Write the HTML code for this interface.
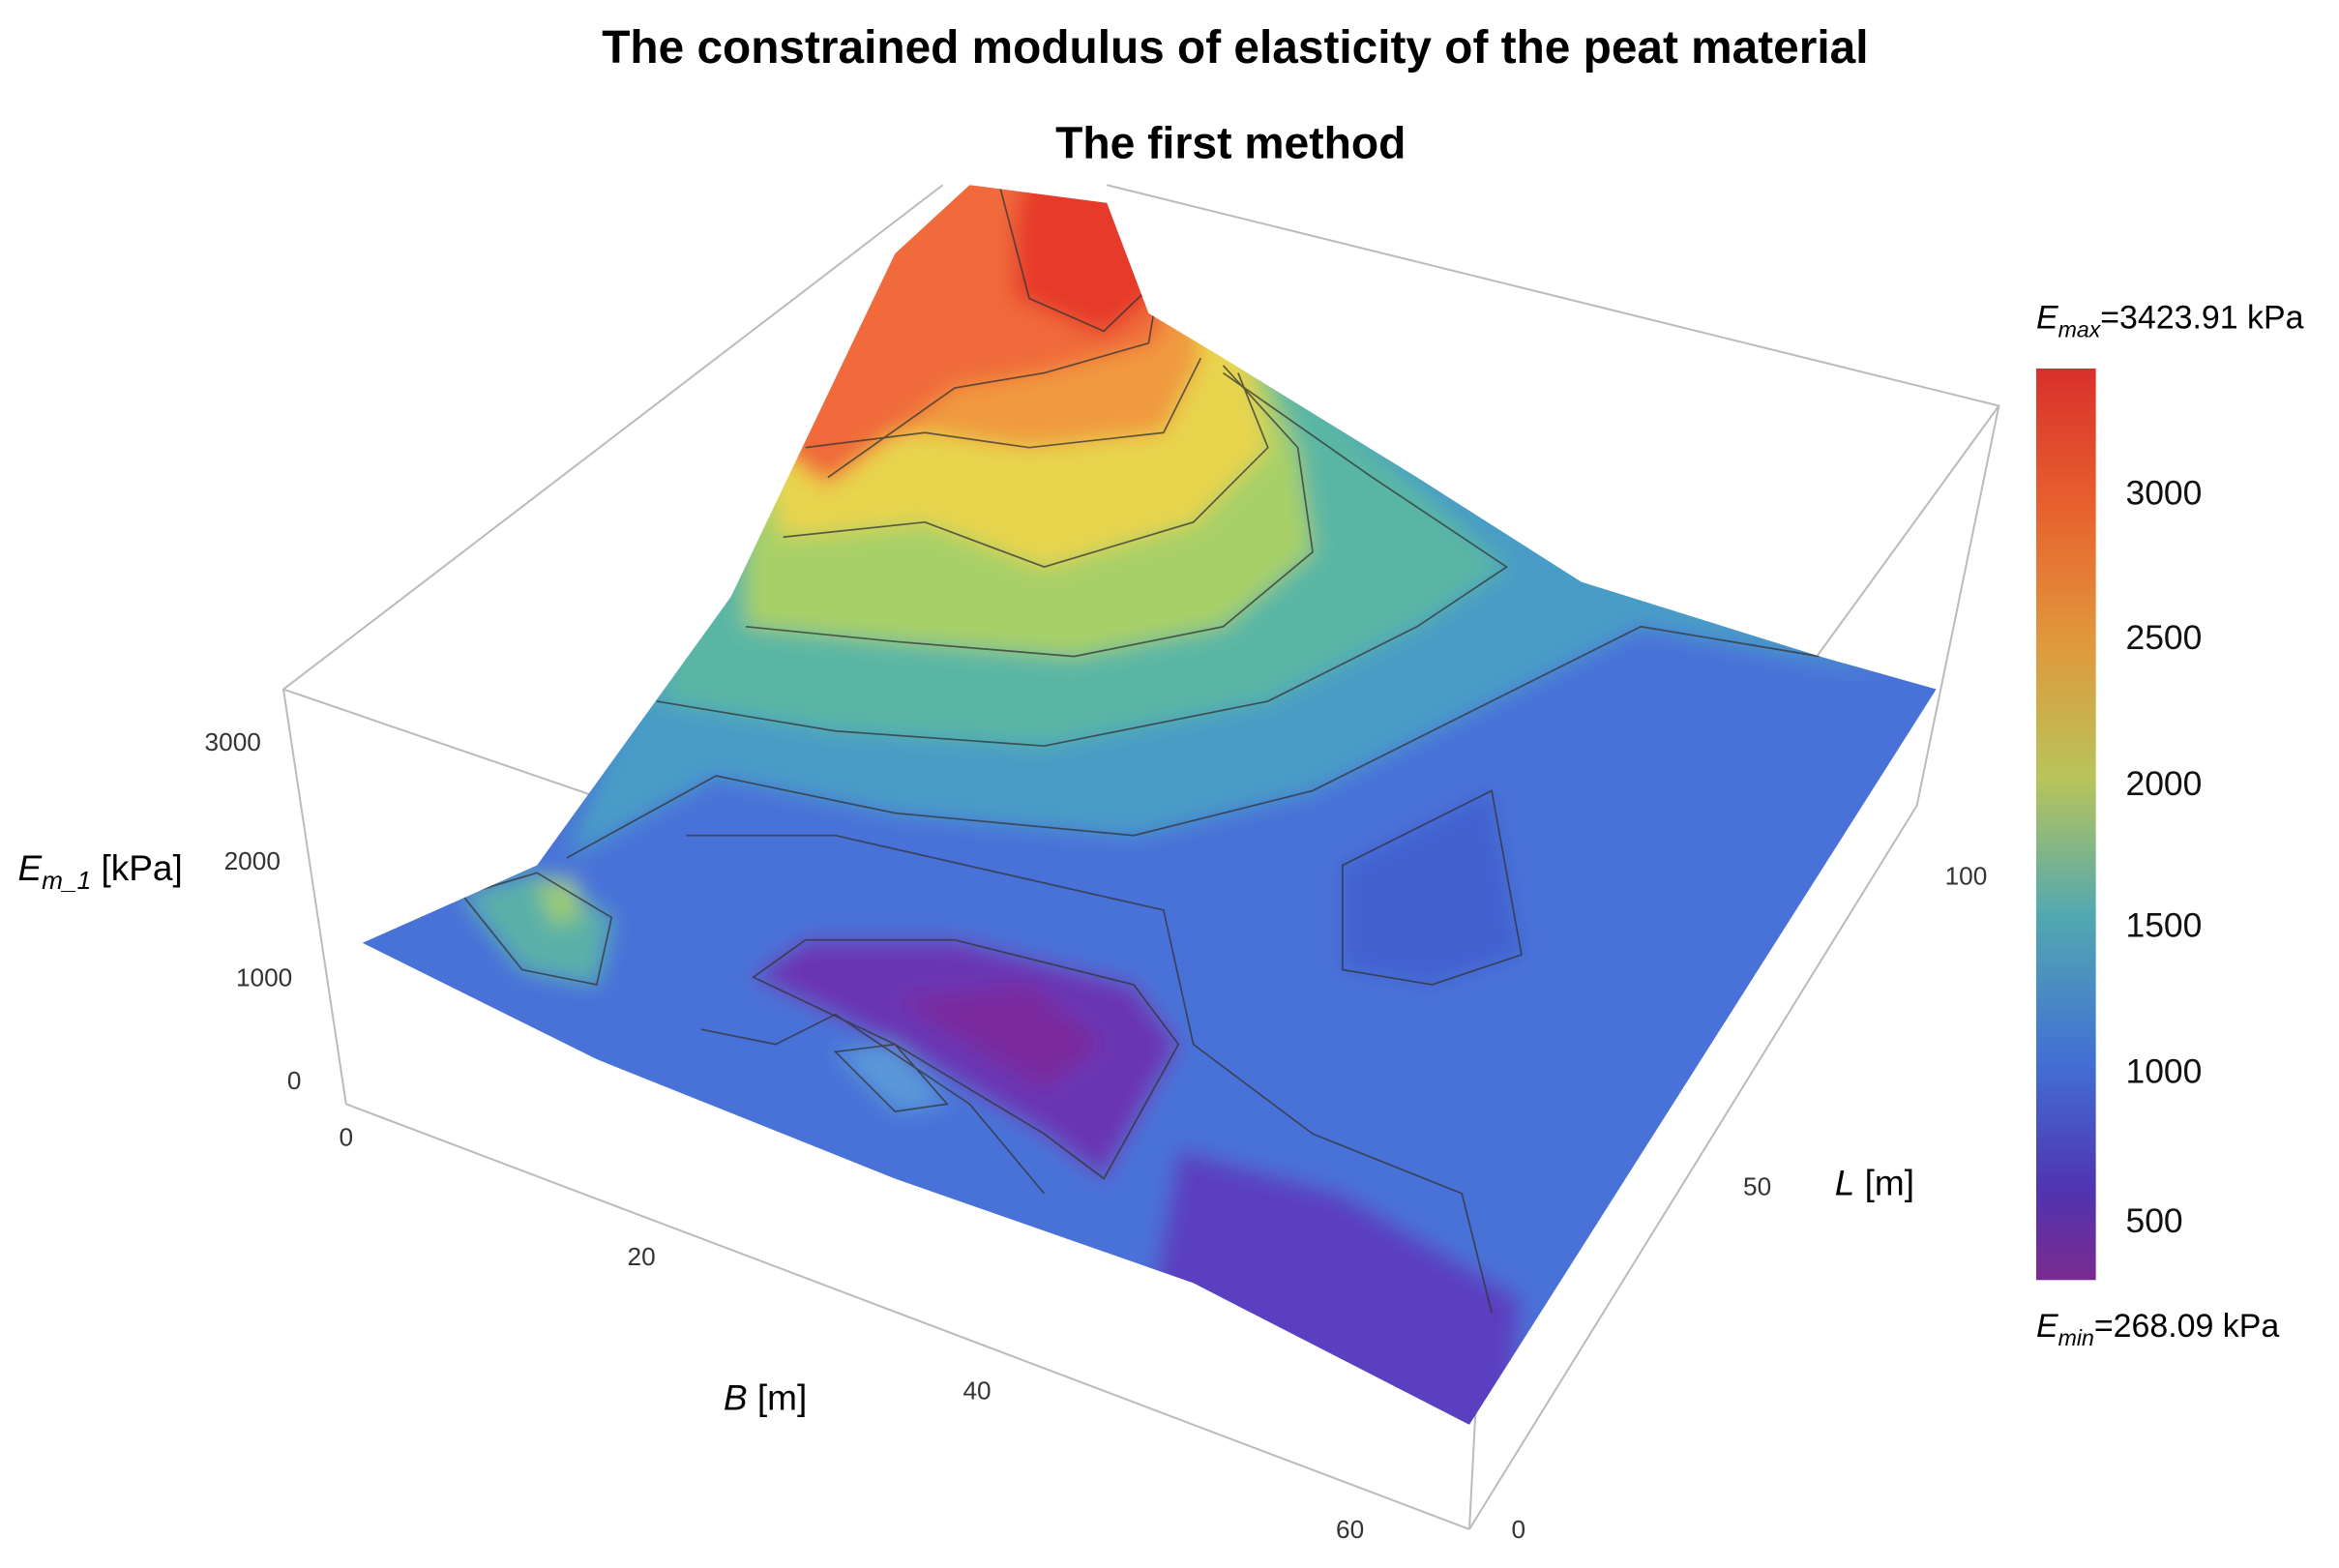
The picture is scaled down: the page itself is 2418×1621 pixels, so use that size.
<!DOCTYPE html>
<html><head><meta charset="utf-8"><style>
html,body{margin:0;padding:0;background:#fff;}
svg{display:block;}
text{font-family:"Liberation Sans",sans-serif;}
</style></head><body>
<svg width="2418" height="1621" viewBox="0 0 1568 1051" preserveAspectRatio="none" xmlns="http://www.w3.org/2000/svg">
<defs>
<linearGradient id="cb" x1="0" y1="0" x2="0" y2="1">
<stop offset="0" stop-color="#d8302c"/>
<stop offset="0.15" stop-color="#e8602e"/>
<stop offset="0.3" stop-color="#e0983c"/>
<stop offset="0.45" stop-color="#b8c45a"/>
<stop offset="0.6" stop-color="#52a8b0"/>
<stop offset="0.76" stop-color="#4270d4"/>
<stop offset="0.9" stop-color="#5034b0"/>
<stop offset="1" stop-color="#7a2a90"/>
</linearGradient>
<clipPath id="surf"><polygon points="243,632 360,580 490,400 600,170 650,124 742,136 770,210 820,240 950,320 1060,390 1220,440 1298,462 985,955 800,860 600,790 400,710"/></clipPath>
<filter id="bl" x="-10%" y="-10%" width="120%" height="120%"><feGaussianBlur stdDeviation="7"/></filter>
</defs>
<text x="828" y="42" text-anchor="middle" font-size="31" font-weight="bold">The constrained modulus of elasticity of the peat material</text>
<text x="825" y="106" text-anchor="middle" font-size="30" font-weight="bold">The first method</text>
<g stroke="#bbb" stroke-width="1.3" fill="none">
<polyline points="232,740 190,462 632,124"/>
<polyline points="742,124 1340,272 1285,540"/>
<line x1="190" y1="462" x2="1000" y2="740"/>
<line x1="1000" y1="740" x2="1340" y2="272"/>
<line x1="1000" y1="740" x2="985" y2="1025"/>
<line x1="232" y1="740" x2="985" y2="1025"/>
<line x1="985" y1="1025" x2="1285" y2="540"/>
</g>
<g clip-path="url(#surf)">
<g filter="url(#bl)">
<rect x="150" y="60" width="1250" height="1000" fill="#4a72d8"/>
<polygon points="380,575 480,520 600,545 760,560 880,530 1000,470 1100,420 1260,450 1100,380 980,300 860,220 800,150 760,60 620,60 560,150 450,400" fill="#4a9cc6"/>
<polygon points="440,470 560,490 700,500 850,470 950,420 1010,380 920,300 840,220 800,150 760,60 620,60 560,150 470,380" fill="#5ab6a4"/>
<polygon points="500,420 600,430 720,440 820,420 880,370 870,300 840,230 800,150 760,60 620,60 560,150 500,330" fill="#a8d068"/>
<polygon points="525,360 620,350 700,380 800,350 850,300 835,240 800,150 760,60 620,60 560,150 510,300" fill="#e8d44e"/>
<polygon points="540,300 620,290 690,300 780,290 805,240 800,150 760,60 620,60 560,150 520,250" fill="#f09a40"/>
<polygon points="555,325 640,260 700,250 775,230 790,190 760,60 620,60 560,150 520,300" fill="#f06a3a"/>
<polygon points="680,200 740,225 780,195 760,60 700,60 680,150" fill="#e63a2a"/>
<polygon points="505,655 540,630 640,630 760,660 790,700 740,790 700,760 600,700" fill="#6a34b4"/>
<polygon points="600,670 690,660 740,700 700,730" fill="#7a2c9c"/>
<polygon points="790,770 900,800 1020,870 1010,1010 880,930 770,880" fill="#5a40c0"/>
<polygon points="560,705 600,700 635,740 600,745" fill="#5a98d8"/>
<polygon points="310,600 360,585 410,615 400,660 350,650" fill="#5ab0a8"/>
<polygon points="360,590 385,590 390,615 370,620" fill="#9ccc70"/>
<polygon points="900,580 1000,530 1020,640 960,660 900,650" fill="#4262d0"/>
</g>
<g stroke="#333" stroke-width="1.1" fill="none" opacity="0.75">
<polyline points="380,575 480,520 600,545 760,560 880,530 1000,470 1100,420 1220,440"/>
<polyline points="440,470 560,490 700,500 850,470 950,420 1010,380 920,320 820,250"/>
<polyline points="500,420 600,430 720,440 820,420 880,370 870,300 820,245"/>
<polyline points="525,360 620,350 700,380 800,350 850,300 830,250"/>
<polyline points="540,300 620,290 690,300 780,290 805,240"/>
<polyline points="555,320 640,260 700,250 770,230 775,200"/>
<polyline points="670,124 690,200 740,222 768,195"/>
<polygon points="505,655 540,630 640,630 760,660 790,700 740,790 700,760 600,700"/>
<polygon points="560,705 600,700 635,740 600,745"/>
<polygon points="900,580 1000,530 1020,640 960,660 900,650"/>
<polygon points="310,600 360,585 410,615 400,660 350,650"/>
<polyline points="460,560 560,560 780,610 800,700 880,760 980,800 1000,880"/>
<polyline points="470,690 520,700 560,680 650,740 700,800"/>
</g>
</g>
<g font-size="17" fill="#333">
<text x="175" y="503" text-anchor="end">3000</text>
<text x="188" y="583" text-anchor="end">2000</text>
<text x="196" y="661" text-anchor="end">1000</text>
<text x="202" y="730" text-anchor="end">0</text>
<text x="232" y="768" text-anchor="middle">0</text>
<text x="430" y="848" text-anchor="middle">20</text>
<text x="655" y="938" text-anchor="middle">40</text>
<text x="905" y="1031" text-anchor="middle">60</text>
<text x="1018" y="1031" text-anchor="middle">0</text>
<text x="1178" y="801" text-anchor="middle">50</text>
<text x="1318" y="593" text-anchor="middle">100</text>
</g>
<text x="12" y="590" font-size="24"><tspan font-style="italic">E</tspan><tspan font-style="italic" font-size="17" dy="6">m_1</tspan><tspan dy="-6"> [kPa]</tspan></text>
<text x="485" y="945" font-size="24"><tspan font-style="italic">B</tspan> [m]</text>
<text x="1230" y="801" font-size="24"><tspan font-style="italic">L</tspan> [m]</text>
<rect x="1365" y="247" width="40" height="611" fill="url(#cb)"/>
<g font-size="23" fill="#111">
<text x="1425" y="338">3000</text>
<text x="1425" y="435">2500</text>
<text x="1425" y="533">2000</text>
<text x="1425" y="628">1500</text>
<text x="1425" y="726">1000</text>
<text x="1425" y="826">500</text>
</g>
<text x="1365" y="220" font-size="22"><tspan font-style="italic">E</tspan><tspan font-style="italic" font-size="15" dy="6">max</tspan><tspan dy="-6">=3423.91 kPa</tspan></text>
<text x="1365" y="896" font-size="22"><tspan font-style="italic">E</tspan><tspan font-style="italic" font-size="15" dy="6">min</tspan><tspan dy="-6">=268.09 kPa</tspan></text>
</svg>
</body></html>
